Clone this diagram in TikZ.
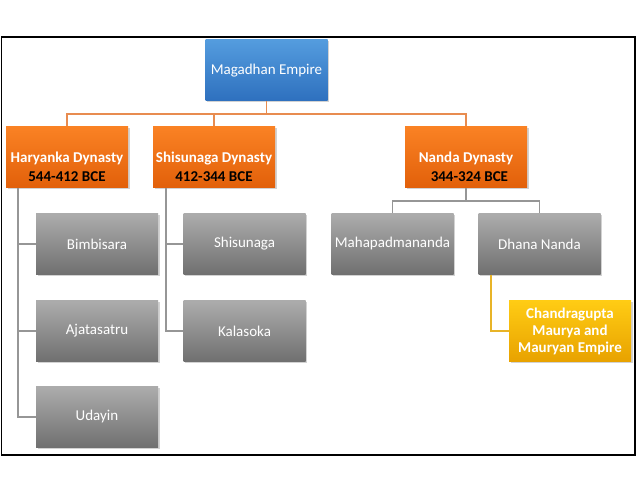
\documentclass[tikz,border=0pt]{standalone}
\usepackage{fontspec}
\setmainfont{Carlito}
\usetikzlibrary{shadows}
\definecolor{blueT}{RGB}{84,156,222}
\definecolor{blueB}{RGB}{46,112,190}
\definecolor{orT}{RGB}{250,130,36}
\definecolor{orB}{RGB}{226,96,10}
\definecolor{grT}{RGB}{172,172,172}
\definecolor{grB}{RGB}{112,112,112}
\definecolor{goT}{RGB}{255,204,20}
\definecolor{goB}{RGB}{232,162,0}
\definecolor{orLine}{RGB}{232,140,80}
\definecolor{grLine}{RGB}{150,150,150}
\definecolor{goLine}{RGB}{232,180,40}
\tikzset{
  box/.style={rectangle, minimum width=122pt, minimum height=61pt, inner sep=1pt,
    align=center, font=\fontsize{15}{17}\selectfont, text=white,
    drop shadow={shadow xshift=1.5pt, shadow yshift=-1.5pt, opacity=0.35, fill=gray}},
  bluebox/.style={box, top color=blueT, bottom color=blueB},
  orbox/.style={box, top color=orT, bottom color=orB, font=\fontsize{15}{19.5}\selectfont\bfseries,
    text height=54pt, text depth=4pt, inner ysep=0pt},
  grbox/.style={box, top color=grT, bottom color=grB},
  gobox/.style={box, top color=goT, bottom color=goB, font=\fontsize{15}{17}\selectfont\bfseries},
  orconn/.style={draw=orLine, line width=1.5pt},
  grconn/.style={draw=grLine, line width=1.5pt},
  goconn/.style={draw=goLine, line width=1.5pt},
}
\begin{document}
\begin{tikzpicture}[x=1pt,y=-1pt]
\useasboundingbox (0,0) rectangle (638,478);
\fill[white] (0,0) rectangle (638,478);
\draw[line width=1.2pt] (1.5,37) rectangle (635,455);

\node[bluebox] (mag) at (266.5,70.5) {Magadhan Empire};
\node[orbox] (har) at (67,157) {Haryanka Dynasty\\\textcolor{black}{544-412 BCE}};
\node[orbox] (shi) at (214,157) {Shisunaga Dynasty\\\textcolor{black}{412-344 BCE}};
\node[orbox] (nan) at (466,157) {Nanda Dynasty\\\textcolor{black}{\ \ 344-324 BCE}};

\node[grbox] (bim) at (97,244) {Bimbisara};
\node[grbox] (aja) at (97,331) {Ajatasatru};
\node[grbox] (uda) at (97,417) {Udayin};
\node[grbox] (shs) at (244.5,244) {Shisunaga};
\node[grbox] (kal) at (244.5,331) {Kalasoka};
\node[grbox] (mah) at (392.5,244) {Mahapadmananda};
\node[grbox] (dha) at (539.5,244) {Dhana Nanda};
\node[gobox] (cha) at (570,331) {Chandragupta\\Maurya and\\Mauryan Empire};

\coordinate (hub) at (266.5,114);
\path[orconn] (mag.south) -- (hub);
\path[orconn] (har.north) |- (hub) -| (nan.north);
\path[orconn] (shi.north) -- (shi.north |- hub);

\coordinate (hx) at (18,0);
\path[grconn] (hx |- har.south) |- (uda.west);
\path[grconn] (hx |- bim.west) -- (bim.west);
\path[grconn] (hx |- aja.west) -- (aja.west);
\coordinate (sx) at (166,0);
\path[grconn] (sx |- shi.south) |- (kal.west);
\path[grconn] (sx |- shs.west) -- (shs.west);

\coordinate (nhub) at (466,201);
\path[grconn] (nan.south) -- (nhub);
\path[grconn] (mah.north) |- (nhub) -| (dha.north);

\coordinate (dx) at (491,0);
\path[goconn] (dx |- dha.south) |- (cha.west);
\end{tikzpicture}
\end{document}
